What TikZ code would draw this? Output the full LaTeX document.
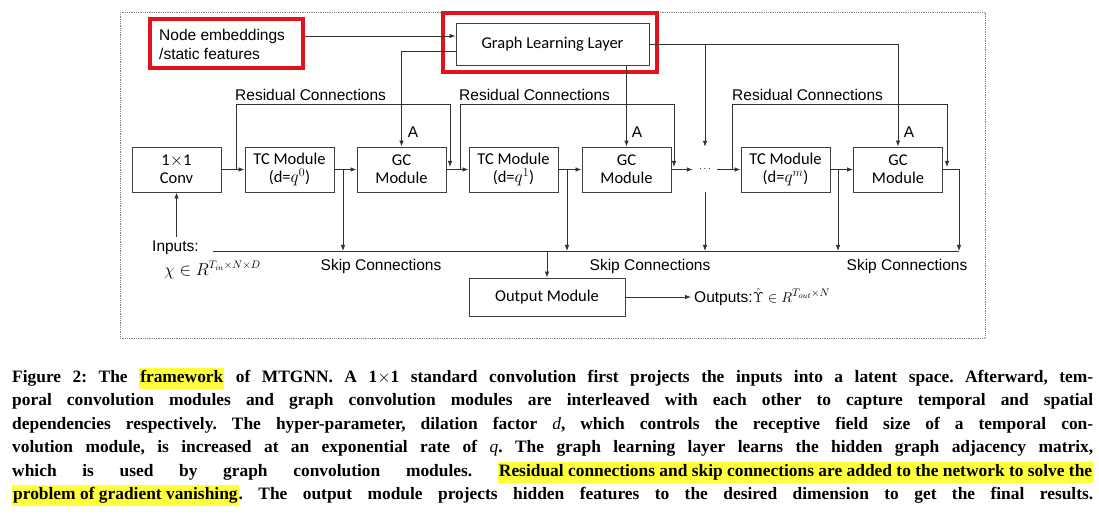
\documentclass[tikz,border=0pt]{standalone}
\usepackage{fontspec}
\setmainfont{Liberation Serif}
\newfontfamily\carl{Carlito}
\newfontfamily\ars{Liberation Sans}
\usetikzlibrary{arrows.meta}
\definecolor{hl}{RGB}{255,255,60}
\definecolor{redb}{RGB}{225,20,30}
\newcommand{\hlt}[1]{{\setlength{\fboxsep}{1pt}\colorbox{hl}{\strut #1}}}
\frenchspacing
\begin{document}
\begin{tikzpicture}[x=1pt,y=-1pt,
  mod/.style={draw=black!75,line width=0.9pt,minimum width=89pt,minimum height=45pt,align=center,font=\carl\fontsize{16.5}{18}\selectfont,inner sep=1pt},
  lbl/.style={font=\ars\fontsize{15.5}{17}\selectfont,inner sep=0pt},
  con/.style={draw=black!80,line width=0.8pt},
  arr/.style={con,-{Latex[length=6pt,width=4.5pt]}},
  capl/.style={anchor=base west,inner sep=0pt,font=\bfseries\fontsize{17.4}{19}\selectfont}]
\useasboundingbox[fill=white] (0,0) rectangle (1099,518);
\draw[black!50,densely dotted,line width=0.8pt] (120,12) rectangle (985,338);
% top
\node[draw=redb,line width=3.5pt,minimum width=153pt,minimum height=49pt] (ne) at (226.5,43.5) {};
\node[font=\ars\fontsize{15.5}{19}\selectfont,align=left,anchor=west,inner sep=0pt] (net) at (159,44) {Node embeddings\\/static features};
\node[draw=redb,line width=3.5pt,minimum width=214pt,minimum height=59pt] (gllr) at (550,42.5) {};
\node[mod,minimum width=193pt,minimum height=42pt] (gll) at (552.5,44) {Graph Learning Layer};
% modules
\node[mod] (conv) at (176.5,169.5) {1$\times$1\\Conv};
\node[mod] (tc0) at (289.5,169.5) {TC Module\\(d=$q^0$)};
\node[mod] (gc1) at (401.5,169.5) {GC\\Module};
\node[mod] (tc1) at (513.5,169.5) {TC Module\\(d=$q^1$)};
\node[mod] (gc2) at (626.5,169.5) {GC\\Module};
\node[minimum height=45pt,minimum width=24pt,inner sep=0pt] (dots) at (705,169.5) {$\cdots$};
\node[mod] (tcm) at (785.5,169.5) {TC Module\\(d=$q^m$)};
\node[mod] (gc3) at (898,169.5) {GC\\Module};
\node[mod,minimum width=156pt,minimum height=38pt] (out) at (547,297) {Output Module};
% inputs
\node[lbl,anchor=west] (in1) at (152,248) {Inputs:};
\node[anchor=west,inner sep=0pt,font=\fontsize{16}{17}\selectfont] (in2) at (164,270) {$\chi \in R^{T_{in}\times N\times D}$};
\node[lbl,anchor=west,inner xsep=0pt] (outs) at (694,297) {Outputs:$\hat{\Upsilon}\in R^{T_{out}\times N}$};
\coordinate (oute) at (691,297);
% labels
\foreach \x in {235,459,732} \node[lbl,anchor=west] at (\x,95) {Residual Connections};
\node[lbl] at (381,266) {Skip Connections};
\node[lbl] at (650,266) {Skip Connections};
\node[lbl] at (907,266) {Skip Connections};
\foreach \x in {413,637,909} \node[lbl] at (\x,132) {A};
% main flow
\draw[arr] (conv) -- (tc0);
\draw[arr] (tc0) -- (gc1);
\draw[arr] (gc1) -- (tc1);
\draw[arr] (tc1) -- (gc2);
\draw[arr] (gc2.east) -- (dots.west);
\draw[arr] (dots.east) -- (tcm.west);
\draw[arr] (tcm) -- (gc3);
\draw[con] (gc3.east) -- (959,169.5);
% graph learning
\draw[arr] (ne.east |- 0,36) -- (gll.west |- 0,36);
\draw[arr] (gll.west |- 0,51) -- (gc1.north |- 0,51) -- (gc1.north);
\draw[arr] (gll.south -| gc2.north) -- (gc2.north);
\draw[arr] (gll.east) -- (898,44) -- (gc3.north);
\draw[arr] (705,44) -- (dots.north);
% residual
\draw[arr] (236,169.5) -- (236,104) -- (450,104) -- (450,167);
\draw[arr] (460,169.5) -- (460,104) -- (674,104) -- (674,167);
\draw[arr] (732,169.5) -- (732,104) -- (947,104) -- (947,167);
% skip
\draw[arr] (conv.south |- 0,237) -- (conv.south);
\draw[con] (213,251) -- (959,251);
\foreach \x in {343,567,838,959} \draw[arr] (\x,169.5) -- (\x,251);
\draw[arr] (dots.south) -- (705,251);
\draw[arr] (out.north |- 0,251) -- (out.north);
\draw[arr] (out.east) -- (oute);
% caption
\node[capl] (c1) at (12,382) {\makebox[1081pt][s]{Figure 2: The \hlt{framework} of MTGNN. A 1$\times$1 standard convolution first projects the inputs into a latent space. Afterward, tem-}};
\node[capl] (c2) at (12,405.5) {\makebox[1081pt][s]{poral convolution modules and graph convolution modules are interleaved with each other to capture temporal and spatial}};
\node[capl] (c3) at (12,429) {\makebox[1081pt][s]{dependencies respectively. The hyper-parameter, dilation factor \textmd{\itshape d}, which controls the receptive field size of a temporal con-}};
\node[capl] (c4) at (12,452.5) {\makebox[1081pt][s]{volution module, is increased at an exponential rate of \textmd{\itshape q}. The graph learning layer learns the hidden graph adjacency matrix,}};
\node[capl] (c5) at (12,476) {\makebox[1081pt][s]{which is used by graph convolution modules. \hlt{Residual connections and skip connections are added to the network to solve the}}};
\node[capl] (c6) at (12,499.5) {\makebox[1081pt][s]{\hlt{problem of gradient vanishing}. The output module projects hidden features to the desired dimension to get the final results.}};
\end{tikzpicture}
\end{document}
